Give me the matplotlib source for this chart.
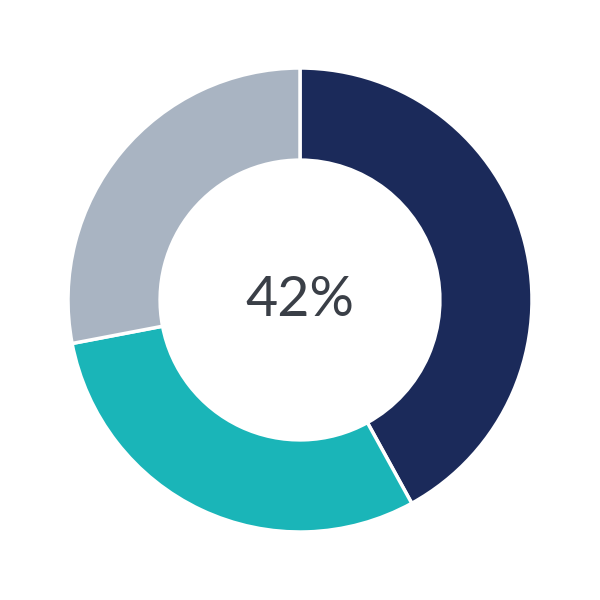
import matplotlib
matplotlib.use("Agg")
import matplotlib.pyplot as plt

labels = ["Navy", "Teal", "Gray"]
values = [42, 30, 28]
colors = ["#1b2a5a", "#1ab5b8", "#a9b4c2"]
center_label = "42%"

fig = plt.figure(figsize=(6, 6), dpi=100)
ax = fig.add_axes([0, 0, 1, 1])
ax.pie(values, colors=colors, startangle=90, counterclock=False,
       wedgeprops=dict(width=0.397, edgecolor="white", linewidth=2.5))
lim = 300 / 232
ax.set_xlim(-lim, lim)
ax.set_ylim(-lim, lim)
ax.set_aspect("equal")
ax.axis("off")
ax.text(0, 0, center_label, ha="center", va="center", fontsize=40,
        color="#3a3f47", family="Lato", fontweight="normal")
fig.savefig("out.png", dpi=100, facecolor="white")
